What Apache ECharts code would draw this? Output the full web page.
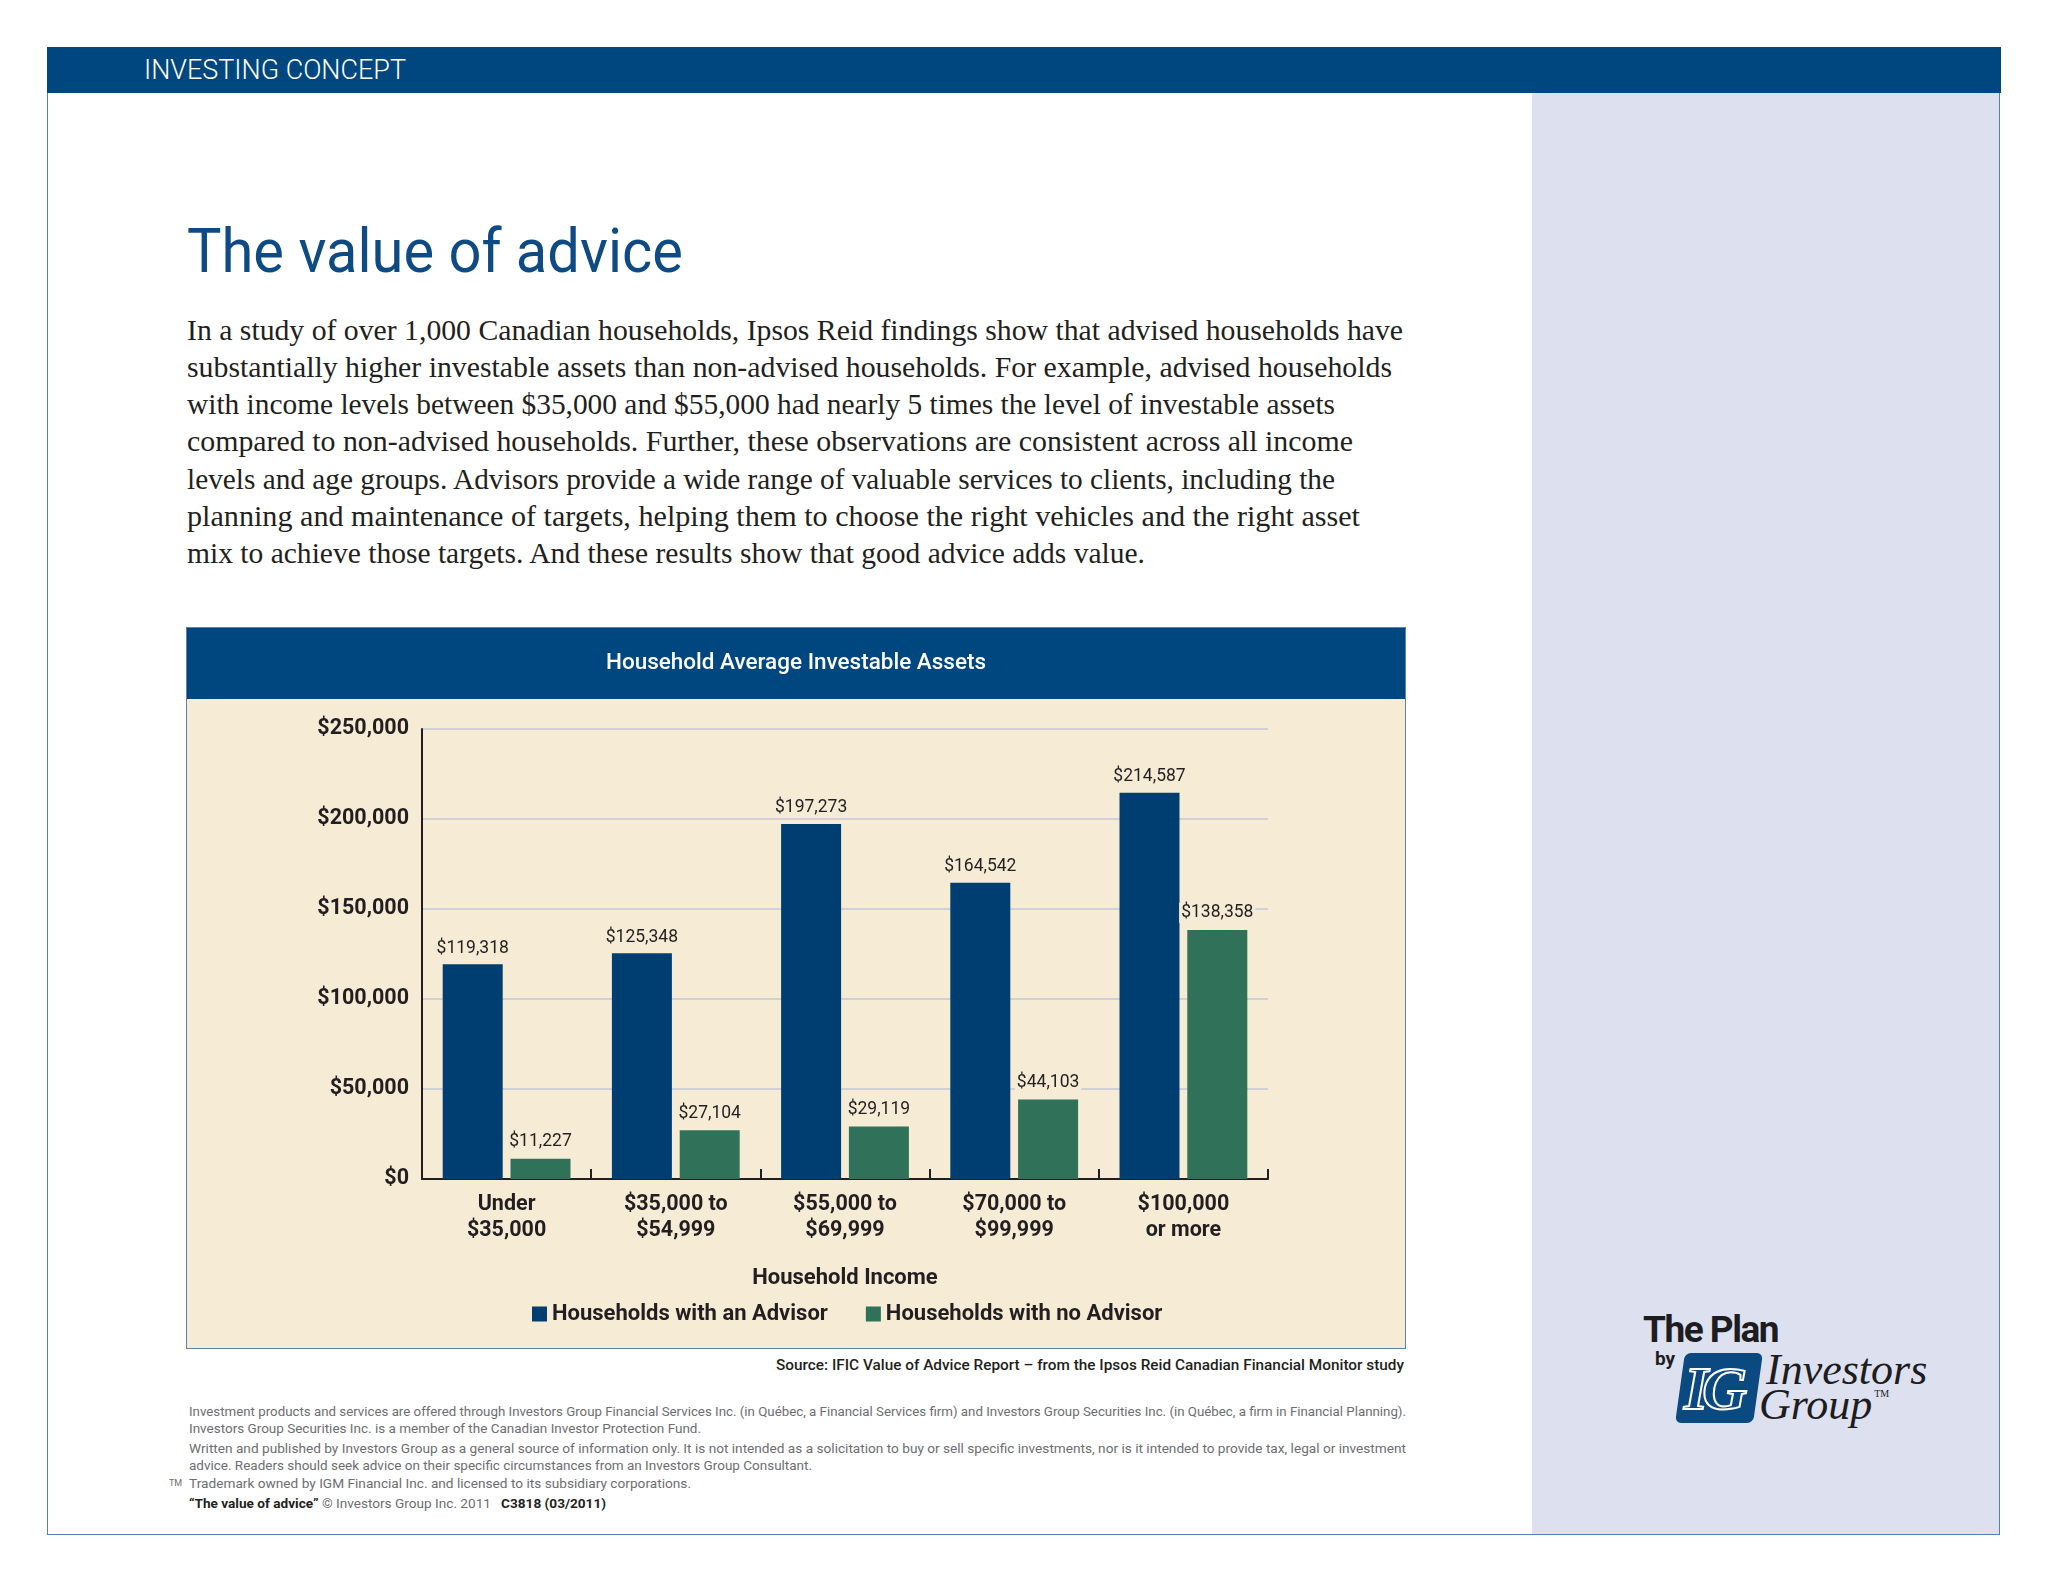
<!DOCTYPE html>
<html>
<head>
<meta charset="utf-8">
<script src="https://cdn.jsdelivr.net/npm/echarts@6/dist/echarts.min.js"></script>
<style>
  html, body { margin: 0; padding: 0; background: #ffffff; }
  body { width: 2048px; height: 1582px; position: relative; overflow: hidden; font-family: Roboto, "Open Sans", sans-serif; }
  .abs { position: absolute; white-space: nowrap; }
  .fit { display: inline-block; transform-origin: 0 50%; }
  #frame { position: absolute; left: 47px; top: 47px; width: 1953px; height: 1488px; border: 1.5px solid #5b7eaa; box-sizing: border-box; }
  #topbar { position: absolute; left: 47px; top: 47px; width: 1954px; height: 46px; background: #00477f; }
  #panel { position: absolute; left: 1532px; top: 93px; width: 467px; height: 1441px; background: #dde1ef; }
  #kicker { left: 144px; top: 52px; font-size: 27px; line-height: 36px; font-weight: 300; color: #ffffff; }
  #title { left: 187px; top: 216px; font-size: 61px; line-height: 70px; color: #0e4b84; font-weight: 400; }
  .para { left: 187px; font-family: "Liberation Serif", "DejaVu Serif", serif; font-size: 28.5px; line-height: 37px; color: #231f20; }
  #chart { position: absolute; left: 187px; top: 628px; width: 1218px; height: 720px; outline: 1.5px solid #5f82ab; }
  #source { font-size: 14px; line-height: 18px; font-weight: 500; color: #231f20; }
  .foot { left: 189px; font-size: 13.5px; line-height: 17px; color: #6d6e71; font-weight: 400; }
  .foot b { color: #231f20; font-weight: 700; }
  #tm { left: 169px; font-size: 9px; line-height: 17px; color: #6d6e71; }
  #plan { left: 1643px; top: 1308px; font-size: 37px; line-height: 44px; font-weight: 700; color: #1d1d1f; letter-spacing: -1.5px; }
  #by { left: 1655px; top: 1347px; font-size: 19px; line-height: 24px; font-weight: 700; color: #1d1d1f; }
  #badge { position: absolute; left: 1680px; top: 1353px; width: 78px; height: 70px; background: #0b4a80; border-radius: 6px; transform: skewX(-8deg); }
  #ig { left: 1684px; top: 1350px; font-family: "Liberation Serif", serif; font-style: italic; font-weight: 700; font-size: 62px; line-height: 76px; color: #0b4a80; -webkit-text-stroke: 2px #ffffff; letter-spacing: -6px; }
  #inv { left: 1766px; top: 1347px; font-family: "Liberation Serif", serif; font-style: italic; font-size: 44px; line-height: 46px; color: #1d1d1f; }
  #grp { left: 1759px; top: 1371px; font-family: "Liberation Serif", serif; font-style: italic; font-size: 44px; line-height: 46px; color: #1d1d1f; }
  #grp sup { font-size: 10px; font-style: normal; vertical-align: 22px; margin-left: 2px; }
</style>
</head>
<body>
<div id="frame"></div>
<div id="topbar"></div>
<div id="panel"></div>
<div class="abs" id="kicker"><span class="fit" data-w="262">INVESTING CONCEPT</span></div>
<div class="abs" id="title"><span class="fit" data-w="496">The value of advice</span></div>

<div class="abs para" style="top:312px"><span class="fit" data-w="1216">In a study of over 1,000 Canadian households, Ipsos Reid findings show that advised households have</span></div>
<div class="abs para" style="top:349px"><span class="fit" data-w="1205">substantially higher investable assets than non-advised households. For example, advised households</span></div>
<div class="abs para" style="top:386px"><span class="fit" data-w="1148">with income levels between $35,000 and $55,000 had nearly 5 times the level of investable assets</span></div>
<div class="abs para" style="top:423px"><span class="fit" data-w="1166">compared to non-advised households. Further, these observations are consistent across all income</span></div>
<div class="abs para" style="top:461px"><span class="fit" data-w="1148">levels and age groups. Advisors provide a wide range of valuable services to clients, including the</span></div>
<div class="abs para" style="top:498px"><span class="fit" data-w="1173">planning and maintenance of targets, helping them to choose the right vehicles and the right asset</span></div>
<div class="abs para" style="top:535px"><span class="fit" data-w="958">mix to achieve those targets. And these results show that good advice adds value.</span></div>

<div id="chart"></div>

<div class="abs" id="source" style="left:776px; top:1356px"><span class="fit" data-w="628">Source: IFIC Value of Advice Report – from the Ipsos Reid Canadian Financial Monitor study</span></div>

<div class="abs foot" style="top:1403px"><span class="fit" data-w="1217">Investment products and services are offered through Investors Group Financial Services Inc. (in Québec, a Financial Services firm) and Investors Group Securities Inc. (in Québec, a firm in Financial Planning).</span></div>
<div class="abs foot" style="top:1420px"><span class="fit" data-w="512">Investors Group Securities Inc. is a member of the Canadian Investor Protection Fund.</span></div>
<div class="abs foot" style="top:1440px"><span class="fit" data-w="1217">Written and published by Investors Group as a general source of information only. It is not intended as a solicitation to buy or sell specific investments, nor is it intended to provide tax, legal or investment</span></div>
<div class="abs foot" style="top:1457px"><span class="fit" data-w="623">advice. Readers should seek advice on their specific circumstances from an Investors Group Consultant.</span></div>
<div class="abs" id="tm" style="top:1475px">TM</div>
<div class="abs foot" style="top:1475px"><span class="fit" data-w="502">Trademark owned by IGM Financial Inc. and licensed to its subsidiary corporations.</span></div>
<div class="abs foot" style="top:1495px"><span class="fit" data-w="417"><b>“The value of advice”</b> © Investors Group Inc. 2011 &nbsp;&nbsp;<b>C3818 (03/2011)</b></span></div>

<div class="abs" id="plan">The Plan</div>
<div class="abs" id="by">by</div>
<div id="badge"></div>
<div class="abs" id="ig">IG</div>
<div class="abs" id="inv">Investors</div>
<div class="abs" id="grp">Group<sup>TM</sup></div>

<script>
// ---- data ----
var categories = ['Under\n$35,000', '$35,000 to\n$54,999', '$55,000 to\n$69,999', '$70,000 to\n$99,999', '$100,000\nor more'];
var seriesNames = ['Households with an Advisor', 'Households with no Advisor'];
var withAdvisor = [119318, 125348, 197273, 164542, 214587];
var noAdvisor = [11227, 27104, 29119, 44103, 138358];
var yTickValues = [0, 50000, 100000, 150000, 200000, 250000];
var chartTitle = 'Household Average Investable Assets';
var xAxisName = 'Household Income';

// fit text widths
document.querySelectorAll('.fit').forEach(function (el) {
  var target = parseFloat(el.getAttribute('data-w'));
  var w = el.getBoundingClientRect().width;
  if (w > 0) el.style.transform = 'scaleX(' + (target / w) + ')';
});

function money(v) { return '$' + Number(v).toLocaleString('en-US'); }

var FONT = 'Roboto, "Open Sans", sans-serif';
var chart = echarts.init(document.getElementById('chart'), null, { renderer: 'canvas' });
chart.setOption({
  backgroundColor: '#f6ecd6',
  animation: false,
  textStyle: { fontFamily: FONT },
  title: {
    text: chartTitle,
    left: 'center',
    top: 19,
    textStyle: { color: '#ffffff', fontSize: 22.5, fontWeight: 500, fontFamily: FONT }
  },
  graphic: [{
    type: 'rect',
    z: 0,
    shape: { x: 0, y: 0, width: 1218, height: 71 },
    style: { fill: '#00477f' }
  }],
  legend: {
    left: 340,
    top: 670,
    itemWidth: 15,
    itemHeight: 15,
    itemGap: 38,
    icon: 'rect',
    data: seriesNames,
    textStyle: { color: '#231f20', fontSize: 22, fontWeight: 'bold', fontFamily: FONT }
  },
  grid: { left: 235, right: 137, top: 101, bottom: 169, containLabel: false },
  xAxis: {
    type: 'category',
    data: categories,
    name: xAxisName,
    nameLocation: 'middle',
    nameGap: 88,
    nameTextStyle: { color: '#231f20', fontSize: 22, fontWeight: 'bold', fontFamily: FONT, verticalAlign: 'top' },
    axisLine: { show: true, lineStyle: { color: '#231f20', width: 2 } },
    axisTick: { show: true, inside: true, length: 10, alignWithLabel: false, lineStyle: { color: '#231f20', width: 2 } },
    axisLabel: { interval: 0, margin: 13, color: '#231f20', fontSize: 21.5, fontWeight: 'bold', lineHeight: 26, fontFamily: FONT }
  },
  yAxis: {
    type: 'value',
    min: 0,
    max: 250000,
    interval: 50000,
    axisLine: { show: true, lineStyle: { color: '#231f20', width: 2 } },
    axisTick: { show: false },
    splitLine: { show: true, lineStyle: { color: '#cfd0d8', width: 2 } },
    axisLabel: {
      margin: 13, color: '#231f20', fontSize: 21.5, fontWeight: 'bold', fontFamily: FONT,
      formatter: function (v) { return yTickValues.indexOf(v) >= 0 ? money(v) : ''; }
    }
  },
  series: [{
    name: seriesNames[0],
    type: 'bar',
    data: withAdvisor,
    barWidth: 60,
    barGap: '13%',
    itemStyle: { color: '#003e71' },
    label: {
      show: true, position: 'top', distance: 7, color: '#231f20', fontSize: 17.5, fontFamily: FONT,
      formatter: function (p) { return money(p.value); }
    }
  }, {
    name: seriesNames[1],
    type: 'bar',
    data: noAdvisor,
    barWidth: 60,
    barGap: '13%',
    itemStyle: { color: '#2f7159' },
    label: {
      show: true, position: 'top', distance: 7, color: '#231f20', fontSize: 17.5, fontFamily: FONT,
      backgroundColor: '#f6ecd6', padding: [1, 2],
      formatter: function (p) { return money(p.value); }
    }
  }]
});
</script>
</body>
</html>
